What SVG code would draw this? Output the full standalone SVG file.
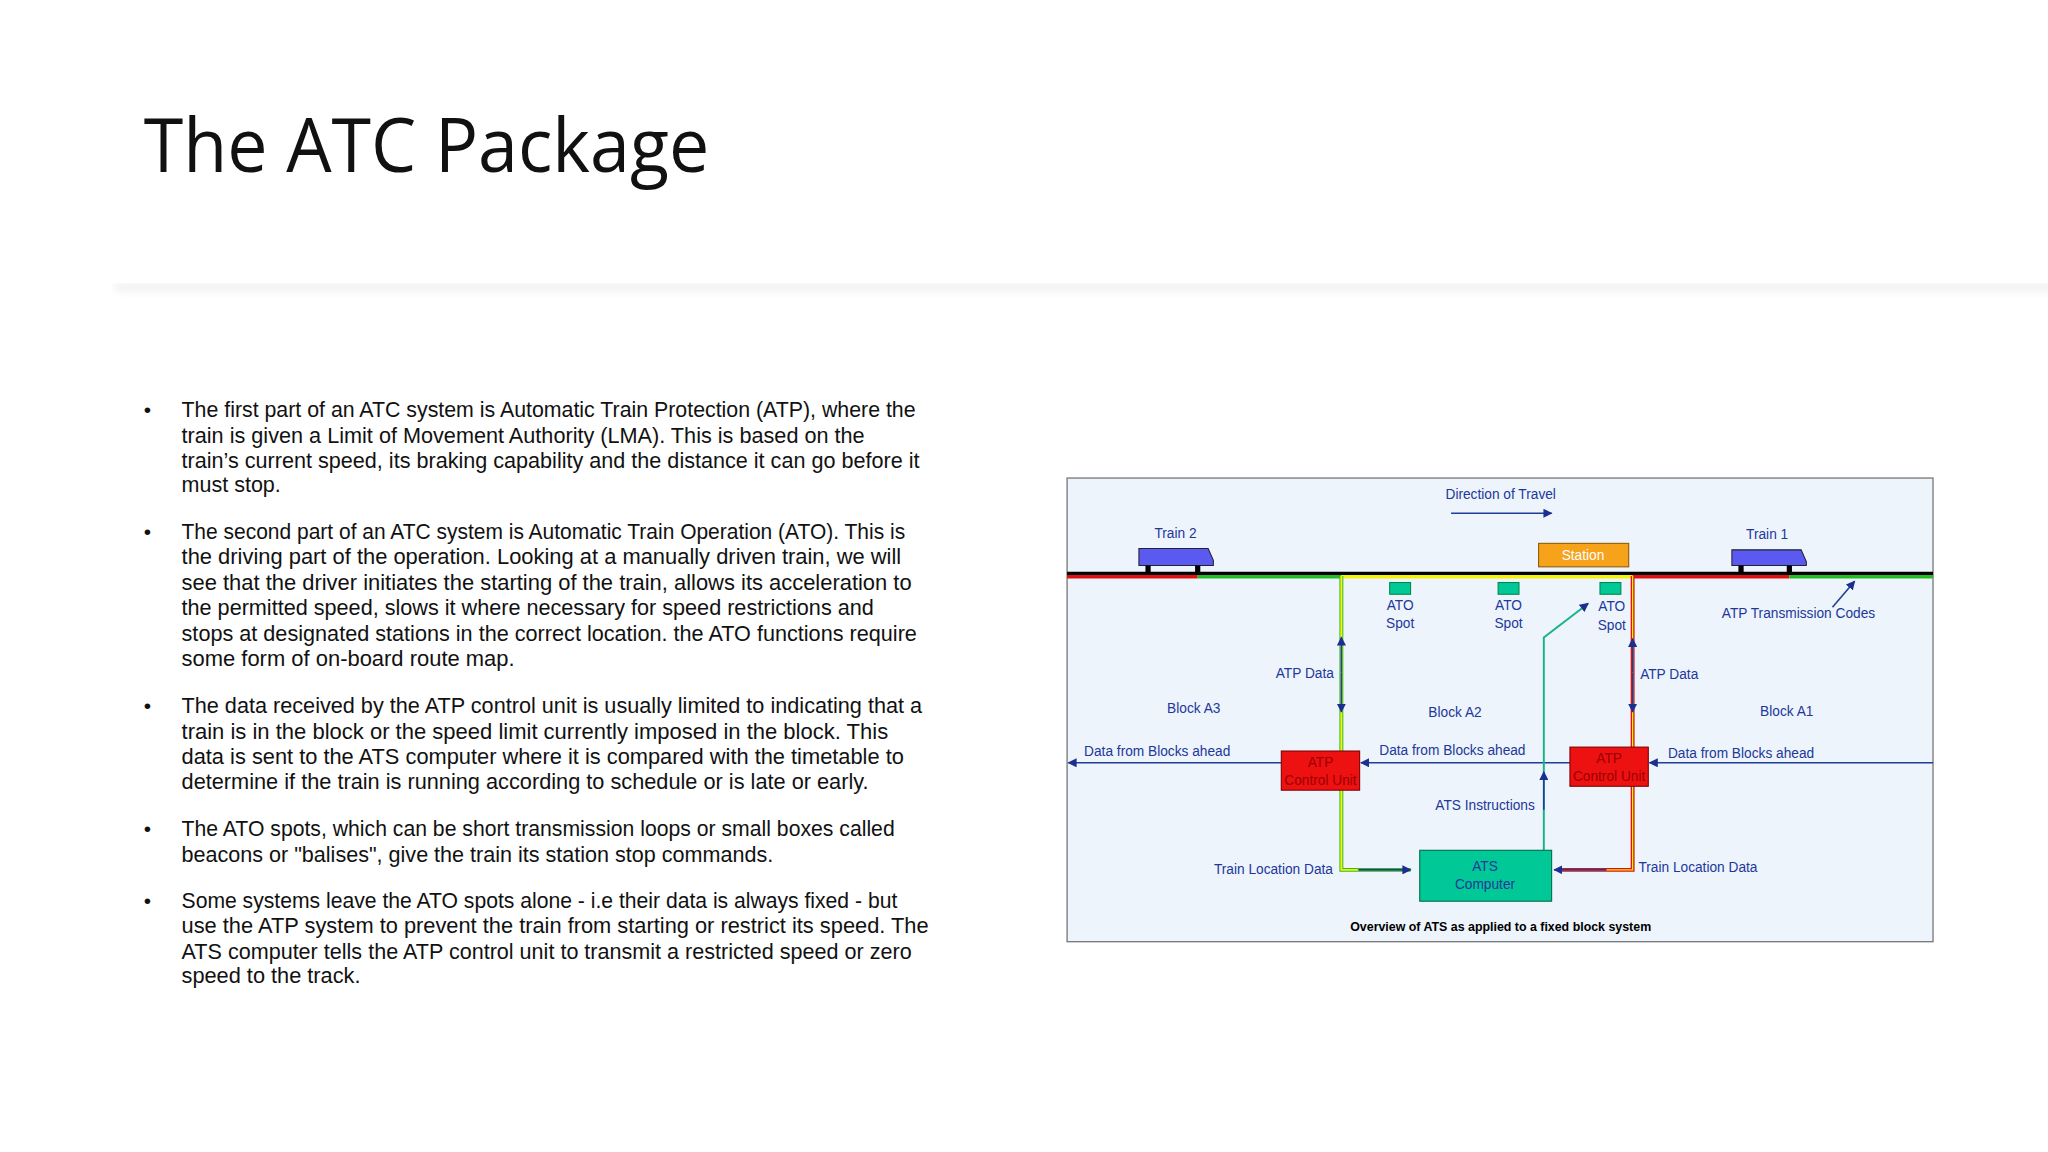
<svg xmlns="http://www.w3.org/2000/svg" width="2048" height="1152" viewBox="0 0 2048 1152">
<defs>
<style>
.b{font-family:"Liberation Sans",Arial,sans-serif;font-size:16.6px;fill:#111}
.d{font-family:"Liberation Sans",Arial,sans-serif;font-size:10.5px;fill:#22379a;text-anchor:middle}
.u{font-family:"Liberation Sans",Arial,sans-serif;font-size:10.5px;fill:#9a0000;text-anchor:middle}
.bl{stroke:#1f3d99;stroke-width:1.2;fill:none}
</style>
<marker id="ar" viewBox="0 0 10 10" refX="9" refY="5" markerWidth="7" markerHeight="7" markerUnits="userSpaceOnUse" orient="auto"><path d="M0,0L10,5L0,10z" fill="#1a2f8f"/></marker>
<linearGradient id="sh" x1="0" y1="0" x2="0" y2="1"><stop offset="0" stop-color="#e4e4e4"/><stop offset="1" stop-color="#fff" stop-opacity="0"/></linearGradient>
<filter id="bf"><feGaussianBlur stdDeviation="3"/></filter>
</defs>
<rect width="2048" height="1152" fill="#fff"/>
<g transform="scale(1.3061)">
<rect x="88" y="218" width="1490" height="10" fill="url(#sh)" filter="url(#bf)"/>
<text x="110" y="132" font-family="'Open Sans','Noto Sans',sans-serif" font-size="58" fill="#111" textLength="433" lengthAdjust="spacingAndGlyphs">The ATC Package</text>
<g id="bullets">
<g font-family="Liberation Sans,Arial,sans-serif" font-size="16" fill="#111"><text x="110" y="319">•</text><text x="110" y="413">•</text><text x="110" y="546">•</text><text x="110" y="640">•</text><text x="110" y="695">•</text></g>
<text class="b" x="139" y="319" textLength="562" lengthAdjust="spacingAndGlyphs">The first part of an ATC system is Automatic Train Protection (ATP), where the</text>
<text class="b" x="139" y="339" textLength="523" lengthAdjust="spacingAndGlyphs">train is given a Limit of Movement Authority (LMA). This is based on the</text>
<text class="b" x="139" y="358" textLength="565" lengthAdjust="spacingAndGlyphs">train’s current speed, its braking capability and the distance it can go before it</text>
<text class="b" x="139" y="377" textLength="76" lengthAdjust="spacingAndGlyphs">must stop.</text>
<text class="b" x="139" y="413" textLength="554" lengthAdjust="spacingAndGlyphs">The second part of an ATC system is Automatic Train Operation (ATO). This is</text>
<text class="b" x="139" y="432" textLength="551" lengthAdjust="spacingAndGlyphs">the driving part of the operation. Looking at a manually driven train, we will</text>
<text class="b" x="139" y="452" textLength="559" lengthAdjust="spacingAndGlyphs">see that the driver initiates the starting of the train, allows its acceleration to</text>
<text class="b" x="139" y="471" textLength="530" lengthAdjust="spacingAndGlyphs">the permitted speed, slows it where necessary for speed restrictions and</text>
<text class="b" x="139" y="491" textLength="563" lengthAdjust="spacingAndGlyphs">stops at designated stations in the correct location. the ATO functions require</text>
<text class="b" x="139" y="510" textLength="255" lengthAdjust="spacingAndGlyphs">some form of on-board route map.</text>
<text class="b" x="139" y="546" textLength="567" lengthAdjust="spacingAndGlyphs">The data received by the ATP control unit is usually limited to indicating that a</text>
<text class="b" x="139" y="566" textLength="541" lengthAdjust="spacingAndGlyphs">train is in the block or the speed limit currently imposed in the block.  This</text>
<text class="b" x="139" y="585" textLength="553" lengthAdjust="spacingAndGlyphs">data is sent to the ATS computer where it is compared with the timetable to</text>
<text class="b" x="139" y="604" textLength="526" lengthAdjust="spacingAndGlyphs">determine if the train is running according to schedule or is late or early.</text>
<text class="b" x="139" y="640" textLength="546" lengthAdjust="spacingAndGlyphs">The ATO spots, which can be short transmission loops or small boxes called</text>
<text class="b" x="139" y="660" textLength="453" lengthAdjust="spacingAndGlyphs">beacons or "balises", give the train its station stop commands.</text>
<text class="b" x="139" y="695" textLength="548" lengthAdjust="spacingAndGlyphs">Some systems leave the ATO spots alone - i.e their data is always fixed - but</text>
<text class="b" x="139" y="714" textLength="572" lengthAdjust="spacingAndGlyphs">use the ATP system to prevent the train from starting or restrict its speed.  The</text>
<text class="b" x="139" y="734" textLength="559" lengthAdjust="spacingAndGlyphs">ATS computer tells the ATP control unit to transmit a restricted speed or zero</text>
<text class="b" x="139" y="753" textLength="137" lengthAdjust="spacingAndGlyphs">speed to the track.</text>
</g>
<g id="diagram">
<rect x="817" y="366" width="663" height="355" fill="#edf4fc" stroke="#777" stroke-width="1"/>
<g id="track">
<line x1="817" y1="441.5" x2="917" y2="441.5" stroke="#e01010" stroke-width="3"/>
<line x1="917" y1="441.5" x2="1027" y2="441.5" stroke="#22bb22" stroke-width="3"/>
<line x1="1027" y1="441.5" x2="1250" y2="441.5" stroke="#f2f20a" stroke-width="3"/>
<line x1="1250" y1="441.5" x2="1370" y2="441.5" stroke="#e01010" stroke-width="3"/>
<line x1="1370" y1="441.5" x2="1480" y2="441.5" stroke="#22bb22" stroke-width="3"/>
<line x1="817" y1="439" x2="1480" y2="439" stroke="#000" stroke-width="2.5"/>
</g>
<g id="connectors">
<path d="M1027,441V666H1080" stroke="#33bb22" stroke-width="3" fill="none"/>
<path d="M1027,441V666H1080" stroke="#f2f20a" stroke-width="1.5" fill="none"/>
<path d="M1250,441V666H1195" stroke="#e01010" stroke-width="3" fill="none"/>
<path d="M1250,441V666H1195" stroke="#f2f20a" stroke-width="1" fill="none"/>
<line x1="1027" y1="515" x2="1027" y2="488" class="bl" marker-end="url(#ar)"/>
<line x1="1027" y1="515" x2="1027" y2="545" class="bl" marker-end="url(#ar)"/>
<line x1="1250" y1="515" x2="1250" y2="489" class="bl" marker-end="url(#ar)"/>
<line x1="1250" y1="515" x2="1250" y2="545" class="bl" marker-end="url(#ar)"/>
<line x1="1040" y1="666" x2="1080" y2="666" class="bl" marker-end="url(#ar)"/>
<line x1="1230" y1="666" x2="1190" y2="666" class="bl" marker-end="url(#ar)"/>
<line x1="1480" y1="584" x2="1263" y2="584" class="bl" marker-end="url(#ar)"/>
<line x1="1202" y1="584" x2="1042" y2="584" class="bl" marker-end="url(#ar)"/>
<line x1="981" y1="584" x2="818" y2="584" class="bl" marker-end="url(#ar)"/>
<path d="M1182,651V488L1216,462" stroke="#19b38a" stroke-width="1.5" fill="none" marker-end="url(#ar)"/>
<line x1="1182" y1="620" x2="1182" y2="591" class="bl" marker-end="url(#ar)"/>
<line x1="1111" y1="393" x2="1188" y2="393" class="bl" marker-end="url(#ar)"/>
<line x1="1403" y1="465" x2="1420" y2="445" class="bl" marker-end="url(#ar)"/>
</g>
<g id="train2"><path d="M872,420H925L929,429V433H872Z" fill="#5a5af0" stroke="#223" stroke-width="0.8"/><rect x="877" y="433" width="4" height="5" fill="#000"/><rect x="915" y="433" width="4" height="5" fill="#000"/><text class="d" x="900" y="412">Train 2</text></g>
<g id="train1"><path d="M1326,421H1379L1383,430V433H1326Z" fill="#5a5af0" stroke="#223" stroke-width="0.8"/><rect x="1331" y="433" width="4" height="5" fill="#000"/><rect x="1368" y="433" width="4" height="5" fill="#000"/><text class="d" x="1353" y="413">Train 1</text></g>
<g id="station"><rect x="1178" y="416" width="69" height="18" fill="#f7a21b" stroke="#8a5a00" stroke-width="0.8"/><text class="d" x="1212" y="429" style="fill:#fff">Station</text></g>
<g id="ato1"><rect x="1064" y="446" width="16" height="9" fill="#00c896" stroke="#084" stroke-width="0.8"/><text class="d" x="1072" y="467">ATO</text><text class="d" x="1072" y="481">Spot</text></g>
<g id="ato2"><rect x="1147" y="446" width="16" height="9" fill="#00c896" stroke="#084" stroke-width="0.8"/><text class="d" x="1155" y="467">ATO</text><text class="d" x="1155" y="481">Spot</text></g>
<g id="ato3"><rect x="1225" y="446" width="16" height="9" fill="#00c896" stroke="#084" stroke-width="0.8"/><text class="d" x="1234" y="468">ATO</text><text class="d" x="1234" y="482">Spot</text></g>
<g id="atp-left"><rect x="981" y="575" width="60" height="30" fill="#ee1111" stroke="#700" stroke-width="0.8"/><text class="u" x="1011" y="587">ATP</text><text class="u" x="1011" y="601">Control Unit</text></g>
<g id="atp-right"><rect x="1202" y="572" width="60" height="30" fill="#ee1111" stroke="#700" stroke-width="0.8"/><text class="u" x="1232" y="584">ATP</text><text class="u" x="1232" y="598">Control Unit</text></g>
<g id="ats"><rect x="1087" y="651" width="101" height="39" fill="#00c896" stroke="#064" stroke-width="0.8"/><text class="d" x="1137" y="667">ATS</text><text class="d" x="1137" y="681">Computer</text></g>
<g id="labels">
<text class="d" x="1149" y="382">Direction of Travel</text>
<text class="d" x="1377" y="473">ATP Transmission Codes</text>
<text class="d" x="999" y="519">ATP Data</text>
<text class="d" x="1278" y="520">ATP Data</text>
<text class="d" x="914" y="546">Block A3</text>
<text class="d" x="1114" y="549">Block A2</text>
<text class="d" x="1368" y="548">Block A1</text>
<text class="d" x="886" y="579">Data from Blocks ahead</text>
<text class="d" x="1112" y="578">Data from Blocks ahead</text>
<text class="d" x="1333" y="580">Data from Blocks ahead</text>
<text class="d" x="1137" y="620">ATS Instructions</text>
<text class="d" x="975" y="669">Train Location Data</text>
<text class="d" x="1300" y="668">Train Location Data</text>
<text class="d" x="1149" y="713" style="fill:#000;font-weight:bold;font-size:9.5px">Overview of ATS as applied to a fixed block system</text>
</g>
</g>
</g>
</svg>
